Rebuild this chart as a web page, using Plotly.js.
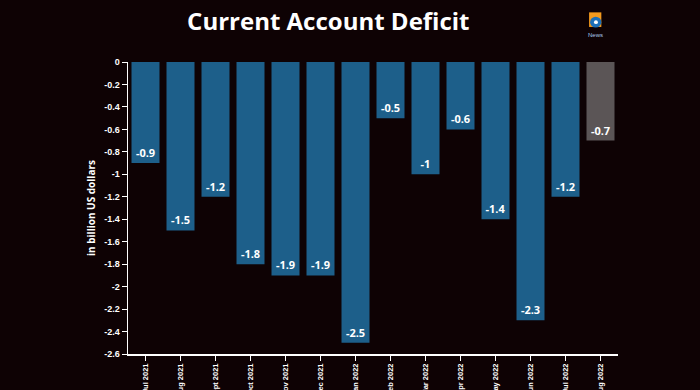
<!DOCTYPE html>
<html><head><meta charset="utf-8">
<script src="https://cdn.plot.ly/plotly-3.0.1.min.js"></script>
<style>html,body{margin:0;padding:0;background:#0e0204;}#chart{width:700px;height:390px;}</style>
</head><body><div id="chart"></div>
<script>
const months = ["Jul 2021","Aug 2021","Sept 2021","Oct 2021","Nov 2021","Dec 2021","Jan 2022","Feb 2022","Mar 2022","Apr 2022","May 2022","Jun 2022","Jul 2022","Aug 2022"];
const deficit = [-0.9,-1.5,-1.2,-1.8,-1.9,-1.9,-2.5,-0.5,-1,-0.6,-1.4,-2.3,-1.2,-0.7];
const barLabels = ["-0.9","-1.5","-1.2","-1.8","-1.9","-1.9","-2.5","-0.5","-1","-0.6","-1.4","-2.3","-1.2","-0.7"];
const yTickVals = [0,-0.2,-0.4,-0.6,-0.8,-1,-1.2,-1.4,-1.6,-1.8,-2,-2.2,-2.4,-2.6];
const yTickText = ["0","-0.2","-0.4","-0.6","-0.8","-1","-1.2","-1.4","-1.6","-1.8","-2","-2.2","-2.4","-2.6"];

const colors = months.map((m,i)=> i===months.length-1 ? '#5b5556' : '#1d5f8a');

const trace = {
  type:'bar', x: months, y: deficit, text: barLabels,
  textposition:'inside', insidetextanchor:'end', textangle:0,
  textfont:{family:'Open Sans', size:11, color:'#ffffff', weight:700},
  marker:{color:colors, line:{width:0}},
  hoverinfo:'none', cliponaxis:false
};

const layout = {
  width:700, height:390,
  paper_bgcolor:'#0e0204', plot_bgcolor:'#0e0204',
  margin:{l:128, r:82, t:62, b:36, pad:0},
  bargap:0.2,
  showlegend:false,
  title:{text:'<b>Current Account Deficit</b>', x:0.469, xanchor:'center', y:0.945, yanchor:'middle',
         font:{family:'Open Sans', size:24, color:'#ffffff'}},
  xaxis:{type:'category', range:[-0.5,13.5], automargin:false,
         showline:true, linecolor:'#ffffff', linewidth:1.5,
         ticks:'outside', ticklen:5, tickcolor:'#ffffff', tickwidth:1,
         tickangle:-90, showgrid:false, zeroline:false,
         tickfont:{family:'Liberation Sans', size:7.5, color:'#ffffff', weight:700}},
  yaxis:{range:[-2.6,0], automargin:false,
         tickvals:yTickVals, ticktext:yTickText,
         showline:true, linecolor:'#ffffff', linewidth:1.5,
         ticks:'outside', ticklen:5, tickcolor:'#ffffff', tickwidth:1,
         showgrid:false, zeroline:false,
         tickfont:{family:'Liberation Sans', size:9, color:'#ffffff', weight:700},
         title:{text:'<b>in billion US dollars</b>', standoff:6,
                font:{family:'Open Sans', size:10, color:'#ffffff'}}},
  shapes:[
    {type:'rect', xref:'paper', yref:'paper', x0:0.941, x1:0.966, y0:1.12, y1:1.17, fillcolor:'#f39a1e', line:{width:0}, layer:'above'},
    {type:'circle', xref:'paper', yref:'paper', x0:0.943, x1:0.966, y0:1.118, y1:1.155, fillcolor:'#1c6fb8', line:{width:0}, layer:'above'},
    {type:'circle', xref:'paper', yref:'paper', x0:0.951, x1:0.959, y0:1.13, y1:1.143, fillcolor:'#ffffff', line:{width:0}, layer:'above'}
  ],
  annotations:[
    {text:'News', xref:'paper', yref:'paper', x:0.9535, y:1.108, xanchor:'center', yanchor:'top', showarrow:false,
     font:{family:'Liberation Sans', size:6, color:'#a9c8e8'}}
  ]
};

Plotly.newPlot('chart',[trace],layout,{displayModeBar:false, staticPlot:true});
</script></body></html>
